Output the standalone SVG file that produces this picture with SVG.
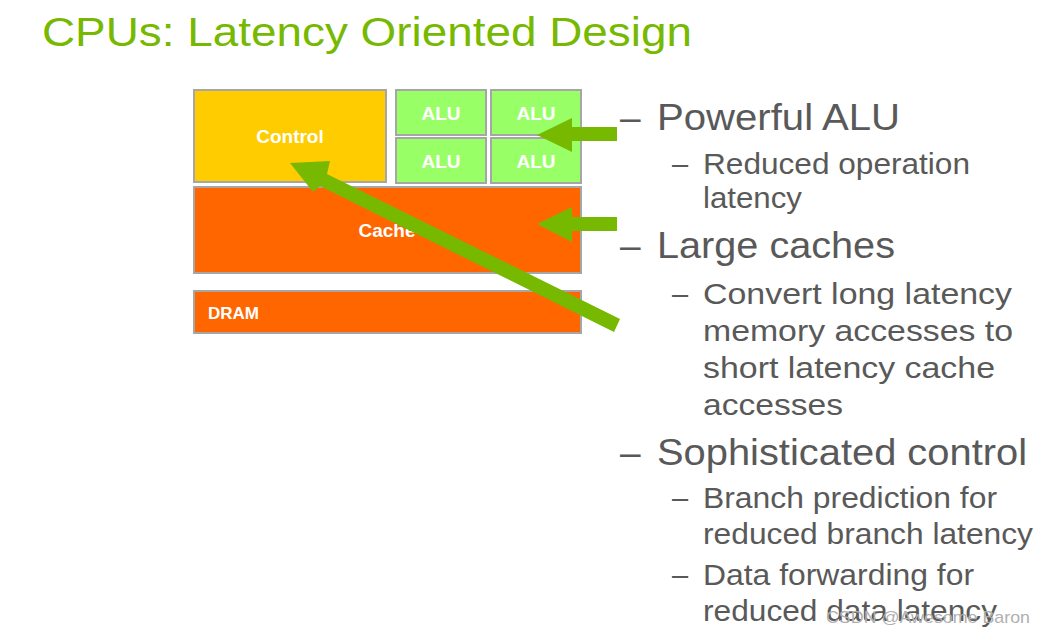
<svg xmlns="http://www.w3.org/2000/svg" width="1045" height="633" viewBox="0 0 1045 633">
<style>
.t{font-family:"Liberation Sans",Arial,sans-serif}
.b{fill:#fff;font-weight:bold;font-size:19px;text-anchor:middle}
.box{stroke:#a6a6a6;stroke-width:2}
.l1{fill:#595959;font-size:37px}
.l2{fill:#595959;font-size:29px}
.arr{fill:#76b900}
</style>
<rect width="1045" height="633" fill="#fff"/>
<text class="t" x="42" y="46" font-size="41" fill="#76b900" textLength="650" lengthAdjust="spacingAndGlyphs">CPUs: Latency Oriented Design</text>
<g id="control"><rect class="box" x="194" y="90" width="192" height="92" fill="#ffcc00"/><text class="t b" x="290" y="143">Control</text></g>
<g id="alu1"><rect class="box" x="396" y="90" width="90" height="45" fill="#99ff66"/><text class="t b" x="441" y="120">ALU</text></g>
<g id="alu2"><rect class="box" x="491" y="90" width="90" height="45" fill="#99ff66"/><text class="t b" x="536" y="120">ALU</text></g>
<g id="alu3"><rect class="box" x="396" y="138" width="90" height="45" fill="#99ff66"/><text class="t b" x="441" y="168">ALU</text></g>
<g id="alu4"><rect class="box" x="491" y="138" width="90" height="45" fill="#99ff66"/><text class="t b" x="536" y="168">ALU</text></g>
<g id="cache"><rect class="box" x="194" y="187" width="387" height="86" fill="#ff6600"/><text class="t b" x="387" y="237">Cache</text></g>
<g id="dram"><rect class="box" x="194" y="291" width="387" height="42" fill="#ff6600"/><text class="t" x="208" y="319" font-size="17" font-weight="bold" fill="#fff">DRAM</text></g>
<g id="connectors">
<polygon class="arr" points="617,127 572,127 572,118 537,135 572,152 572,141 617,141"/>
<polygon class="arr" points="617,217 572,217 572,207 537,224 572,242 572,231 617,231"/>
<polygon class="arr" points="620,319 327,174 330,161 290,163 313,192 320,186 614,332"/>
</g>
<g class="t">
<text class="l1" x="620" y="130">–</text><text class="l1" x="657" y="130" textLength="243" lengthAdjust="spacingAndGlyphs">Powerful ALU</text>
<text class="l2" x="672" y="174">–</text><text class="l2" x="703" y="174" textLength="267" lengthAdjust="spacingAndGlyphs">Reduced operation</text>
<text class="l2" x="703" y="208" textLength="99" lengthAdjust="spacingAndGlyphs">latency</text>
<text class="l1" x="620" y="258">–</text><text class="l1" x="657" y="258" textLength="238" lengthAdjust="spacingAndGlyphs">Large caches</text>
<text class="l2" x="672" y="304">–</text><text class="l2" x="703" y="304" textLength="309" lengthAdjust="spacingAndGlyphs">Convert long latency</text>
<text class="l2" x="703" y="341" textLength="310" lengthAdjust="spacingAndGlyphs">memory accesses to</text>
<text class="l2" x="703" y="378" textLength="292" lengthAdjust="spacingAndGlyphs">short latency cache</text>
<text class="l2" x="703" y="415" textLength="140" lengthAdjust="spacingAndGlyphs">accesses</text>
<text class="l1" x="620" y="465">–</text><text class="l1" x="657" y="465" textLength="370" lengthAdjust="spacingAndGlyphs">Sophisticated control</text>
<text class="l2" x="672" y="508">–</text><text class="l2" x="703" y="508" textLength="294" lengthAdjust="spacingAndGlyphs">Branch prediction for</text>
<text class="l2" x="703" y="544" textLength="330" lengthAdjust="spacingAndGlyphs">reduced branch latency</text>
<text class="l2" x="672" y="585">–</text><text class="l2" x="703" y="585" textLength="271" lengthAdjust="spacingAndGlyphs">Data forwarding for</text>
<text class="l2" x="703" y="621" textLength="294" lengthAdjust="spacingAndGlyphs">reduced data latency</text>
<text x="826" y="623" font-size="17" fill="#b0b0b0" textLength="204" lengthAdjust="spacingAndGlyphs">CSDN @Awesome Baron</text>
</g>
</svg>
